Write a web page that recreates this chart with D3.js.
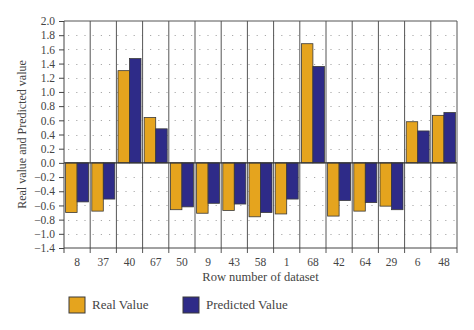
<!DOCTYPE html>
<meta charset="utf-8">
<head>
  <title>Real vs predicted</title>
</head>
<style>
body {
  margin: 0;
  background: #fff;
  font-family: "Liberation Serif", "DejaVu Serif", serif;
}
.tick text {
  fill: #444;
  font-size: 11.5px;
  font-family: "Liberation Serif", "DejaVu Serif", serif;
}
</style>
<body>
<svg id="chart" width="474" height="330"></svg>
<script src="https://cdn.jsdelivr.net/npm/d3@7"></script>
<script>
// rows of the dataset, in plotted order
var rows = ["8", "37", "40", "67", "50", "9", "43", "58", "1", "68", "42", "64", "29", "6", "48"];
var realValues = [-0.70, -0.68, 1.30, 0.64, -0.66, -0.71, -0.67, -0.76, -0.72, 1.68, -0.75, -0.68, -0.61, 0.58, 0.67];
var predictedValues = [-0.55, -0.51, 1.47, 0.48, -0.62, -0.57, -0.58, -0.70, -0.51, 1.36, -0.53, -0.56, -0.66, 0.45, 0.71];
var yTicks = [2.0, 1.8, 1.6, 1.4, 1.2, 1.0, 0.8, 0.6, 0.4, 0.2, 0.0, -0.2, -0.4, -0.6, -0.8, -1.0, -1.2];
// the bottom tick carries the label "-1.4"
var yTickLabels = ["2.0", "1.8", "1.6", "1.4", "1.2", "1.0", "0.8", "0.6", "0.4", "0.2", "0.0",
  "\u22120.2", "\u22120.4", "\u22120.6", "\u22120.8", "\u22121.0", "\u22121.4"];
var seriesNames = ["Real Value", "Predicted Value"];
var colors = ["#E5A41E", "#2E2B88"];

var svg = d3.select("#chart");
var plotL = 64, plotR = 457, plotT = 21, plotB = 248;

var x = d3.scaleBand().domain(rows).range([plotL, plotR]);
var xInner = d3.scaleBand().domain([0, 1]).range([0, x.bandwidth()]).paddingOuter(0.14);
var y = d3.scaleLinear().domain([-1.2, 2.0]).range([plotB, plotT]);

// dotted grid
svg.append("g").selectAll("line")
  .data(yTicks.filter(function(d) { return d !== 2.0 && d !== -1.2 && d !== 0; }))
  .join("line")
  .attr("x1", plotL + 4).attr("x2", plotR)
  .attr("y1", function(d) { return Math.round(y(d)) + 0.5; })
  .attr("y2", function(d) { return Math.round(y(d)) + 0.5; })
  .attr("stroke", "#aaa")
  .attr("stroke-width", 1.2)
  .attr("stroke-dasharray", "1.2,7");

// separators between rows
svg.append("g").selectAll("line")
  .data(rows.slice(1))
  .join("line")
  .attr("x1", function(d) { return x(d); }).attr("x2", function(d) { return x(d); })
  .attr("y1", plotT).attr("y2", plotB + 5)
  .attr("stroke", "#555").attr("stroke-width", 1);

// bars
var series = [realValues, predictedValues];
var bars = svg.append("g");
series.forEach(function(values, s) {
  bars.selectAll(".s" + s)
    .data(values)
    .join("rect")
    .attr("class", "s" + s)
    .attr("x", function(d, i) { return x(rows[i]) + xInner(s); })
    .attr("width", xInner.bandwidth())
    .attr("y", function(d) { return y(Math.max(0, d)); })
    .attr("height", function(d) { return Math.abs(y(d) - y(0)); })
    .attr("fill", colors[s])
    .attr("stroke", "#3a3a3a")
    .attr("stroke-width", 0.8);
});

// frame and zero line
svg.append("line").attr("x1", plotL).attr("x2", plotR).attr("y1", plotT).attr("y2", plotT)
  .attr("stroke", "#555");
svg.append("line").attr("x1", plotR).attr("x2", plotR).attr("y1", plotT).attr("y2", plotB + 5)
  .attr("stroke", "#555");
svg.append("line").attr("x1", plotL).attr("x2", plotR).attr("y1", y(0)).attr("y2", y(0))
  .attr("stroke", "#333").attr("stroke-width", 1.4);

// y axis
var yAxis = svg.append("g")
  .attr("transform", "translate(" + plotL + ",0)")
  .call(d3.axisLeft(y).tickValues(yTicks).tickSize(5).tickPadding(4)
    .tickFormat(function(d, i) { return yTickLabels[i]; }));
yAxis.select(".domain").attr("stroke", "#444").attr("d", "M0," + plotT + "V" + (plotB + 5));
yAxis.selectAll(".tick line").attr("stroke", "#444");

// x axis
var xAxis = svg.append("g")
  .attr("transform", "translate(0," + plotB + ")")
  .call(d3.axisBottom(x).tickSize(0).tickPadding(10));
xAxis.select(".domain").attr("stroke", "#444").attr("d", "M" + plotL + ",0H" + plotR);

// axis titles
svg.append("text")
  .attr("x", (plotL + plotR) / 2).attr("y", 281)
  .attr("text-anchor", "middle")
  .attr("fill", "#444").attr("font-size", 12.5)
  .text("Row number of dataset");

svg.append("text")
  .attr("transform", "translate(26," + (plotT + plotB) / 2 + ") rotate(-90)")
  .attr("text-anchor", "middle")
  .attr("fill", "#444").attr("font-size", 12)
  .text("Real value and Predicted value");

// legend
var legendX = [69, 183];
var legend = svg.append("g").selectAll("g")
  .data(seriesNames)
  .join("g")
  .attr("transform", function(d, i) { return "translate(" + legendX[i] + ",297)"; });
legend.append("rect")
  .attr("width", 16).attr("height", 16)
  .attr("fill", function(d, i) { return colors[i]; })
  .attr("stroke", "#3a3a3a").attr("stroke-width", 1);
legend.append("text")
  .attr("x", 23).attr("y", 12)
  .attr("fill", "#444").attr("font-size", 13)
  .text(function(d) { return d; });
</script>
</body>
</html>
